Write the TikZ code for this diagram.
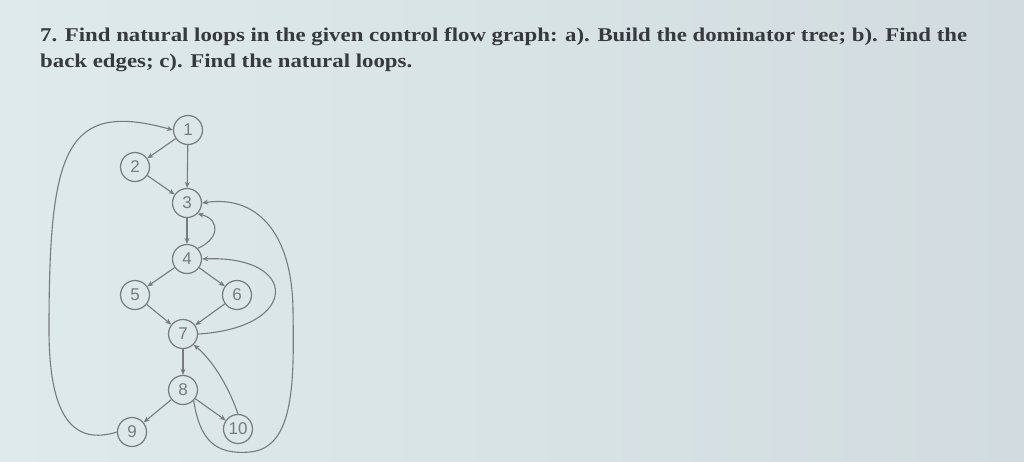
\documentclass[tikz,border=0pt]{standalone}
\usepackage{fontspec}
\newfontfamily\nodefont{Liberation Sans}
\newfontfamily\titlefont[FakeStretch=1.17]{Liberation Serif}
\usetikzlibrary{arrows.meta}
\definecolor{bgleft}{RGB}{222,234,236}
\definecolor{bgright}{RGB}{210,220,224}
\definecolor{ink}{RGB}{55,57,62}
\definecolor{graphgray}{RGB}{120,123,125}
\begin{document}
\begin{tikzpicture}[x=1pt,y=-1pt,
  vtx/.style={circle,draw=graphgray,line width=1.2pt,minimum size=29pt,inner sep=0pt,
    font=\nodefont\fontsize{17}{17}\selectfont,text=graphgray},
  edge/.style={draw=graphgray,line width=1.1pt,-{Stealth[length=6pt,width=5pt]}},
  title/.style={anchor=base west,inner sep=0pt,text=ink,font=\titlefont\fontsize{19.5}{19.5}\selectfont\bfseries}]
\shade[left color=bgleft,right color=bgright] (0,0) rectangle (1024,461);
\useasboundingbox (0,0) rectangle (1024,461);
\node[title] (t1) at (40,41) {7. Find natural loops in the given control flow graph: a). Build the dominator tree; b). Find the};
\node[title] (t2) at (40,67) {back edges; c). Find the natural loops.};
\node[vtx] (n1) at (188,130) {1};
\node[vtx] (n2) at (135,167) {2};
\node[vtx] (n3) at (187,203) {3};
\node[vtx] (n4) at (187,259) {4};
\node[vtx] (n5) at (135,295) {5};
\node[vtx] (n6) at (237,295) {6};
\node[vtx] (n7) at (183,334) {7};
\node[vtx] (n8) at (183,390) {8};
\node[vtx] (n9) at (132,432) {9};
\node[vtx] (n10) at (238,429) {10};
\draw[edge] (n1) -- (n2);
\draw[edge] (n1) -- (n3);
\draw[edge] (n2) -- (n3);
\draw[edge] (n3) -- (n4);
\draw[edge] (n4) -- (n5);
\draw[edge] (n4) -- (n6);
\draw[edge] (n5) -- (n7);
\draw[edge] (n6) -- (n7);
\draw[edge] (n7) -- (n8);
\draw[edge] (n8) -- (n9);
\draw[edge] (n8) -- (n10);
\draw[edge] (n10.north) .. controls (228,385) and (212,360) .. (n7.south east);
\draw[edge] (n4.north east) .. controls (218,240) and (222,220) .. (n3.south east);
\draw[edge] (n7.east) .. controls (300,328) and (300,255) .. (n4.east);
\draw[edge] (n9.west) .. controls (75,445) and (49,420) .. (49,330)
  .. controls (49,150) and (65,100) .. (n1.west);
\draw[edge] (n8.south east) .. controls (200,440) and (215,455) .. (250,452)
  .. controls (295,448) and (294,380) .. (293,310)
  .. controls (292,230) and (255,195) .. (n3.east);
\end{tikzpicture}
\end{document}
